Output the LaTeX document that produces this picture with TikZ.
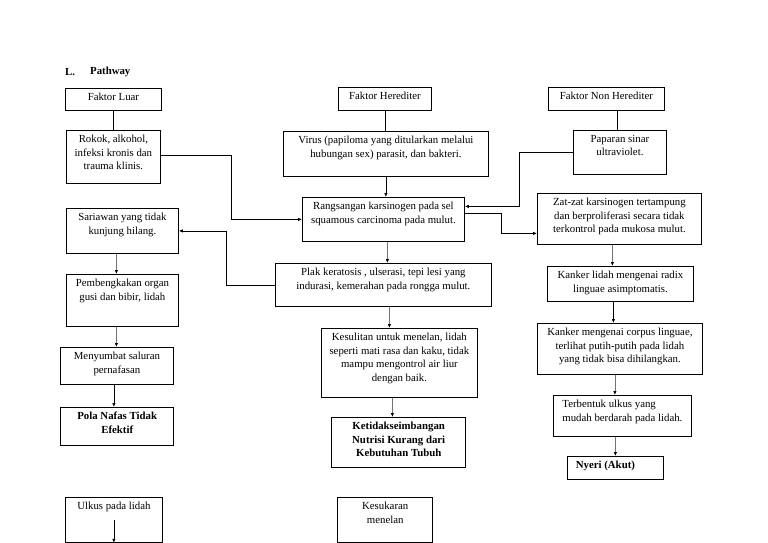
\documentclass[tikz,border=0pt]{standalone}
\usepackage{fontspec}
\setmainfont{Liberation Serif}
\usetikzlibrary{positioning}
\usetikzlibrary{arrows.meta}

\begin{document}
\begin{tikzpicture}[x=1pt,y=-1pt]
% les styles
\tikzstyle kotak=[draw=black,line width=0.8pt]
\tikzstyle kotaktebal=[draw=black,line width=1.4pt]
\tikzstyle teks=[align=center,font=\fontsize{10.8}{13.5}\selectfont,inner xsep=2pt,inner ysep=5pt]
\tikzstyle tebal=[font=\fontsize{10.8}{13.5}\selectfont\bfseries]
\tikzstyle garis=[draw=black,line width=0.8pt]
\tikzstyle panah=[draw=black,line width=0.8pt,-{Latex[length=4pt,width=3.5pt]}]
\tikzstyle panahabu=[draw=black!55,line width=0.8pt,-{Latex[length=4pt,width=3.5pt,color=black]}]
% une boite : options du texte, style, nom, x1, y1, x2, y2, texte
\newcommand{\kotak}[8][]{%
  \node[#2,minimum width=#6-#4,minimum height=#7-#5,anchor=north west,inner sep=0pt] (#3) at (#4,#5) {};
  \node[teks,anchor=north,#1] (#3-isi) at (#3.north) {#8};
}

\useasboundingbox (0,0) rectangle (768,543);

% le titre
\node[tebal,anchor=west,inner sep=0pt] (judul-no) at (65,72) {L.};
\node[tebal,anchor=west,inner sep=0pt] (judul) at (90,72) {Pathway};

% colonne gauche
\kotak{kotak}{luar}{65}{88}{161}{110}{Faktor Luar}
\kotak{kotak}{rokok}{66}{130}{160}{183}{Rokok, alkohol,\\ infeksi kronis dan\\ trauma klinis.}
\kotak{kotak}{sariawan}{66}{208}{178}{253}{Sariawan yang tidak\\ kunjung hilang.}
\kotak{kotak}{bengkak}{66}{274}{178}{326}{Pembengkakan organ\\ gusi dan bibir, lidah}
\kotak{kotak}{sumbat}{60}{347}{173}{384}{Menyumbat saluran\\ pernafasan}
\kotak[tebal]{kotaktebal}{nafas}{60}{407}{173}{445}{Pola Nafas Tidak\\ Efektif}
\kotak{kotak}{ulkus}{65}{497}{162}{542}{Ulkus pada lidah}

% colonne du milieu
\kotak{kotak}{herediter}{338}{87}{431}{110}{Faktor Herediter}
\kotak{kotak}{virus}{283}{131}{488}{176}{Virus (papiloma yang ditularkan melalui\\ hubungan sex) parasit, dan bakteri.}
\kotak{kotak}{rangsang}{302}{197}{464}{241}{Rangsangan karsinogen pada sel\\ squamous carcinoma pada mulut.}
\kotak{kotak}{plak}{275}{263}{491}{306}{Plak keratosis , ulserasi, tepi lesi yang\\ indurasi, kemerahan pada rongga mulut.}
\kotak{kotak}{sulit}{321}{328}{477}{397}{Kesulitan untuk menelan, lidah\\ seperti mati rasa dan kaku, tidak\\ mampu mengontrol air liur\\ dengan baik.}
\kotak[tebal]{kotaktebal}{nutrisi}{331}{417}{465}{467}{Ketidakseimbangan\\ Nutrisi Kurang dari\\ Kebutuhan Tubuh}
\kotak{kotaktebal}{sukar}{337}{497}{432}{542}{Kesukaran\\ menelan}

% colonne droite
\kotak{kotak}{nonhered}{548}{87}{664}{110}{Faktor Non Herediter}
\kotak{kotak}{paparan}{573}{130}{666}{174}{Paparan sinar\\ ultraviolet.}
\kotak{kotak}{zat}{537}{193}{701}{244}{Zat-zat karsinogen tertampung\\ dan berproliferasi secara tidak\\ terkontrol pada mukosa mulut.}
\kotak{kotak}{radix}{547}{266}{693}{301}{Kanker lidah mengenai radix\\ linguae asimptomatis.}
\kotak{kotak}{corpus}{537}{323}{702}{374}{Kanker mengenai corpus linguae,\\ terlihat putih-putih pada lidah\\ yang tidak bisa dihilangkan.}
\kotak[align=left]{kotak}{terbentuk}{553}{395}{691}{436}{Terbentuk ulkus yang\\ mudah berdarah pada lidah.}
\kotak[tebal,xshift=-10pt]{kotak}{nyeri}{567}{456}{663}{479}{Nyeri (Akut)}

% les liaisons
\draw[garis] (luar) -- (rokok);
\draw[panah] ([yshift=2pt]rokok.east) -- ++(71,0) |- (rangsang.west);
\draw[garis] (herediter) -- (herediter |- virus.north);
\draw[panah] (virus.south) -- (virus.south |- rangsang.north);
\draw[garis] ([xshift=-3pt]paparan.north) -- ([xshift=-3pt]paparan.north |- nonhered.south);
\draw[panah] (paparan.west) -- ++(-54,0) |- ([yshift=13pt]rangsang.east);
\draw[panah] ([yshift=6pt]rangsang.east) -- ++(37,0) |- ([yshift=-14.5pt]zat.west);
\draw[panah] (plak.west) -- ++(-49,0) |- (sariawan.east);
\draw[panahabu] ([xshift=-6pt]sariawan.south) -- ([xshift=-6pt]sariawan.south |- bengkak.north);
\draw[panahabu] ([xshift=-6pt]bengkak.south) -- ([xshift=-6pt]bengkak.south |- sumbat.north);
\draw[panah] ([xshift=-3pt]sumbat.south) -- ([xshift=-3pt]sumbat.south |- nafas.north);
\draw[panahabu] ([xshift=4pt]rangsang.south) -- ([xshift=4pt]rangsang.south |- plak.north);
\draw[panahabu] ([xshift=6pt]plak.south) -- ([xshift=6pt]plak.south |- sulit.north);
\draw[panahabu] ([xshift=-7pt]sulit.south) -- ([xshift=-7pt]sulit.south |- nutrisi.north);
\draw[panahabu] ([xshift=-7pt]zat.south) -- ([xshift=-7pt]zat.south |- radix.north);
\draw[panah] ([xshift=-7pt]radix.south) -- ([xshift=-7pt]radix.south |- corpus.north);
\draw[panahabu] ([xshift=-5pt]corpus.south) -- ([xshift=-5pt]corpus.south |- terbentuk.north);
\draw[panahabu] (nyeri.north |- terbentuk.south) -- (nyeri.north);
\draw[panah] ([yshift=-3pt]ulkus-isi.south) -- (ulkus-isi.south |- ulkus.south);
\end{tikzpicture}
\end{document}
